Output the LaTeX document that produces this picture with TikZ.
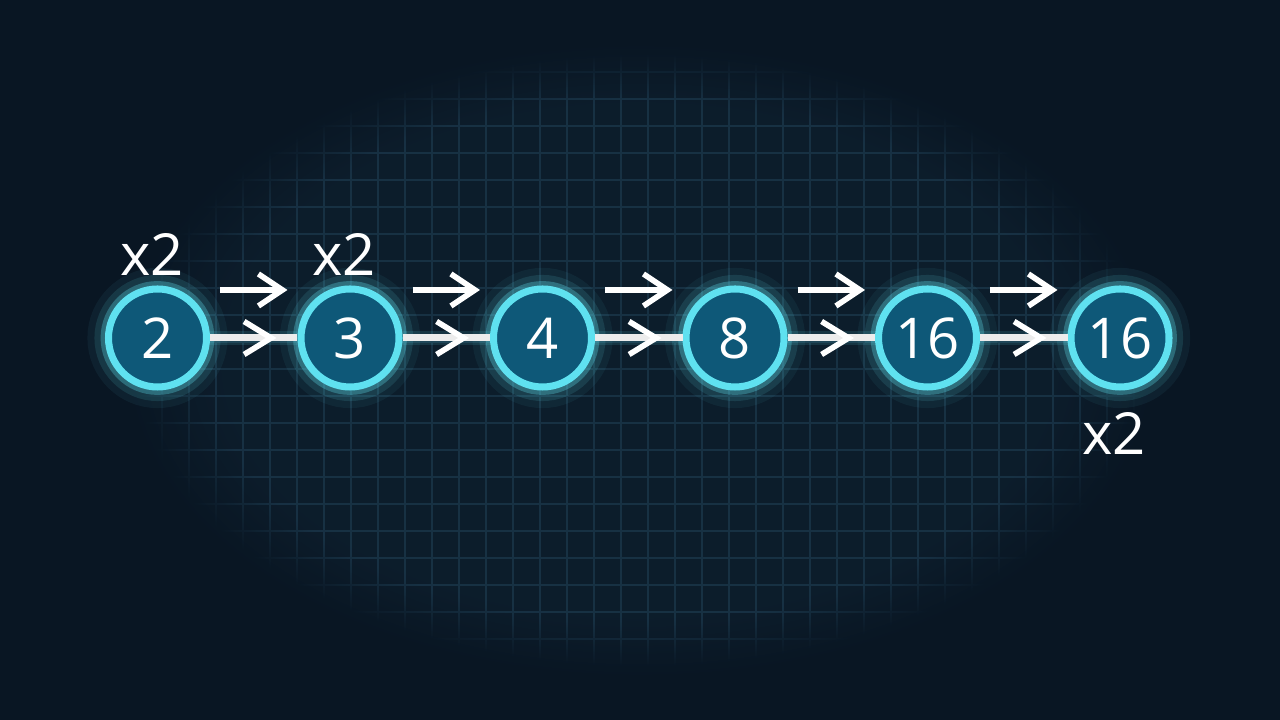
\documentclass[tikz,border=0pt]{standalone}
\usepackage{fontspec}
\setmainfont{Open Sans}
\usetikzlibrary{arrows.meta,positioning,fadings,decorations.markings}
\definecolor{bgdark}{RGB}{9,22,35}
\definecolor{gridc}{RGB}{40,80,105}
\definecolor{ringc}{RGB}{95,225,240}
\definecolor{numfill}{RGB}{14,88,120}
\tikzset{
	num/.style={circle,draw=ringc,line width=2pt,fill=numfill,minimum size=0.98cm,inner sep=0pt,
		text=white,font=\fontsize{16}{19}\selectfont,
		preaction={draw=ringc,line width=4.5pt,opacity=0.3},
		preaction={draw=ringc,line width=8pt,opacity=0.12},
		preaction={draw=ringc,line width=12pt,opacity=0.06}},
	lbl/.style={text=white,font=\fontsize{16.5}{19}\selectfont},
	hop/.style={-{Straight Barb[length=2.4mm,width=3.2mm]},white,line width=1.6pt},
	link/.style={white!85!gray,line width=2pt,
		preaction={draw=ringc,line width=4pt,opacity=0.12},
		postaction={decorate,decoration={markings,mark=at position 0.76 with
			{\arrow[white,line width=1.6pt]{Straight Barb[length=2.7mm,width=3.3mm]}}}}}
}
\begin{document}
\begin{tikzpicture}
	\fill[bgdark] (0,0) rectangle (12.8,7.2);
	\useasboundingbox (0,0) rectangle (12.8,7.2);
	\fill[gridc,opacity=0.12,path fading=circle with fuzzy edge 20 percent] (1.2,0.4) rectangle (11.6,6.8);
	\draw[gridc,line width=0.5pt,step=0.27,opacity=0.4,path fading=circle with fuzzy edge 15 percent] (1.35,0.55) grid (11.45,6.65);
	\node[num] (n1) at (1.575,3.82) {2};
	\node[num] (n2) at (3.5,3.82) {3};
	\node[num] (n3) at (5.425,3.82) {4};
	\node[num] (n4) at (7.35,3.82) {8};
	\node[num] (n5) at (9.275,3.82) {16};
	\node[num] (n6) at (11.2,3.82) {16};
	\node[lbl] (m1) at (1.52,4.65) {x2};
	\node[lbl] (m2) at (3.44,4.65) {x2};
	\node[lbl] (m6) at (11.14,2.86) {x2};
	\foreach \a/\b in {n1/n2,n2/n3,n3/n4,n4/n5,n5/n6} {
		\draw[link] (\a) -- (\b);
		\draw[hop] ([shift={(0.1,0.48)}]\a.east) -- ([shift={(-0.1,0.48)}]\b.west);
	}
\end{tikzpicture}
\end{document}
